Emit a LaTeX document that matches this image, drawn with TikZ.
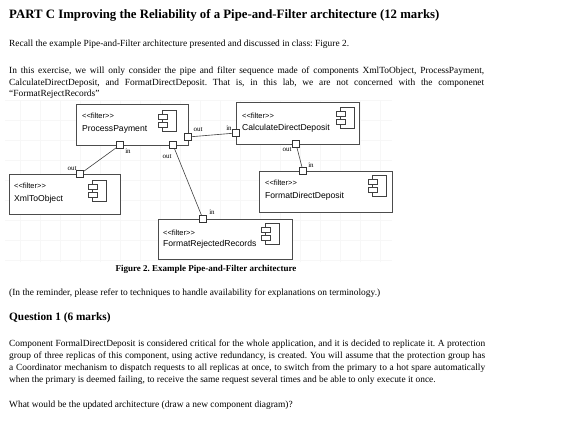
\documentclass[tikz,border=0pt]{standalone}
\usepackage{fontspec}
\setmainfont{Liberation Serif}
\newfontfamily\arialf{Liberation Sans}
\frenchspacing
\begin{document}
\begin{tikzpicture}[x=1pt,y=-1pt,
  comp/.style={draw=black!70, line width=0.6pt, fill=white, anchor=north west, inner sep=0},
  port/.style={draw=black!80, fill=white, minimum size=7pt, inner sep=0, line width=0.6pt},
  wire/.style={draw=black!75, line width=0.6pt},
  plabel/.style={font=\fontsize{7}{8}\selectfont, inner sep=0},
  stereo/.style={font=\arialf\fontsize{7.5}{9}\selectfont, anchor=base west, inner sep=0},
  cname/.style={font=\arialf\fontsize{8.6}{10}\selectfont, anchor=base west, inner sep=0},
  txt/.style={anchor=base west, inner sep=0, font=\fontsize{9.4}{11}\selectfont},
  hd/.style={anchor=base west, inner sep=0, font=\bfseries\fontsize{12.8}{14}\selectfont},
  hdq/.style={anchor=base west, inner sep=0, font=\bfseries\fontsize{11.3}{13}\selectfont},
  cicon/.pic={
    \draw[black!75, line width=0.5pt, fill=white] (4,0) rectangle (18,21);
    \draw[black!75, line width=0.5pt, fill=white] (0,4) rectangle (9,9);
    \draw[black!75, line width=0.5pt, fill=white] (0,12) rectangle (9,17);
  }]
\useasboundingbox[fill=white] (0,0) rectangle (579,421);
% faint grid
\draw[black!3, line width=0.25pt] (5,100) grid[step=20pt] (392,262);

% texts
\node[hd] (title) at (9,18) {PART C Improving the Reliability of a Pipe-and-Filter architecture (12 marks)};
\node[txt] (recall) at (9,46) {Recall the example Pipe-and-Filter architecture presented and discussed in class: Figure 2.};
\node[txt] (p1) at (9,73.5) {\makebox[475pt][s]{In this exercise, we will only consider the pipe and filter sequence made of components XmlToObject, ProcessPayment,}};
\node[txt] (p2) at (9,85) {\makebox[475pt][s]{CalculateDirectDeposit, and FormatDirectDeposit. That is, in this lab, we are not concerned with the componenet}};
\node[txt] (p3) at (9,96.5) {“FormatRejectRecords”};

% components
\node[comp, minimum width=112pt, minimum height=41pt] (pp) at (76,104) {};
\node[comp, minimum width=123pt, minimum height=42pt] (cdd) at (236,102) {};
\node[comp, minimum width=133pt, minimum height=41pt] (fdd) at (259,171) {};
\node[comp, minimum width=111pt, minimum height=40pt] (xto) at (9,174) {};
\node[comp, minimum width=134pt, minimum height=40pt] (frr) at (158,219) {};

\pic at (158,110) {cicon};
\pic at (336,107) {cicon};
\pic at (368,175) {cicon};
\pic at (88,180) {cicon};
\pic at (261,223) {cicon};

\node[stereo] (pps) at (82,118.5) {<\kern0pt<filter>\kern0pt>};
\node[cname] (ppn) at (82,131) {ProcessPayment};
\node[stereo] (cdds) at (242,118.5) {<\kern0pt<filter>\kern0pt>};
\node[cname] (cddn) at (242,130.5) {CalculateDirectDeposit};
\node[stereo] (fdds) at (265,185) {<\kern0pt<filter>\kern0pt>};
\node[cname] (fddn) at (265,198) {FormatDirectDeposit};
\node[stereo] (xtos) at (14,188) {<\kern0pt<filter>\kern0pt>};
\node[cname] (xton) at (14,201) {XmlToObject};
\node[stereo] (frrs) at (163,235) {<\kern0pt<filter>\kern0pt>};
\node[cname] (frrn) at (163,246) {FormatRejectedRecords};

% ports
\node[port] (ppin) at (120,145) {};
\node[port] (ppout2) at (173,145) {};
\node[port] (ppout) at (188,137) {};
\node[port] (cddin) at (236,133) {};
\node[port] (cddout) at (296,144) {};
\node[port] (fddin) at (303,171) {};
\node[port] (xtoout) at (80,174) {};
\node[port] (frrin) at (203,219) {};

\node[plabel] (l1) at (128,151) {in};
\node[plabel] (l2) at (167,157) {out};
\node[plabel] (l3) at (198,130) {out};
\node[plabel] (l4) at (229,128) {in};
\node[plabel] (l5) at (287,150) {out};
\node[plabel] (l6) at (311,165) {in};
\node[plabel] (l7) at (72,169) {out};
\node[plabel] (l8) at (212,212) {in};

% connectors
\draw[wire] (xtoout) -- (ppin);
\draw[wire] (ppout) -- (cddin);
\draw[wire] (cddout) -- (fddin);
\draw[wire] (ppout2) -- (frrin);

\node[anchor=base, inner sep=0, font=\bfseries\fontsize{9}{11}\selectfont] (cap) at (206,271) {Figure 2. Example Pipe-and-Filter architecture};

\node[txt] (rem) at (9,295) {(In the reminder, please refer to techniques to handle availability for explanations on terminology.)};
\node[hdq] (q1) at (9,320.5) {Question 1 (6 marks)};
\node[txt] (q1a) at (9,346) {\makebox[476pt][s]{Component FormalDirectDeposit is considered critical for the whole application, and it is decided to replicate it. A protection}};
\node[txt] (q1b) at (9,358) {\makebox[476pt][s]{group of three replicas of this component, using active redundancy, is created. You will assume that the protection group has}};
\node[txt] (q1c) at (9,370.5) {\makebox[476pt][s]{a Coordinator mechanism to dispatch requests to all replicas at once, to switch from the primary to a hot spare automatically}};
\node[txt] (q1d) at (9,382.5) {when the primary is deemed failing, to receive the same request several times and be able to only execute it once.};
\node[txt] (q1e) at (9,407) {What would be the updated architecture (draw a new component diagram)?};
\end{tikzpicture}
\end{document}
